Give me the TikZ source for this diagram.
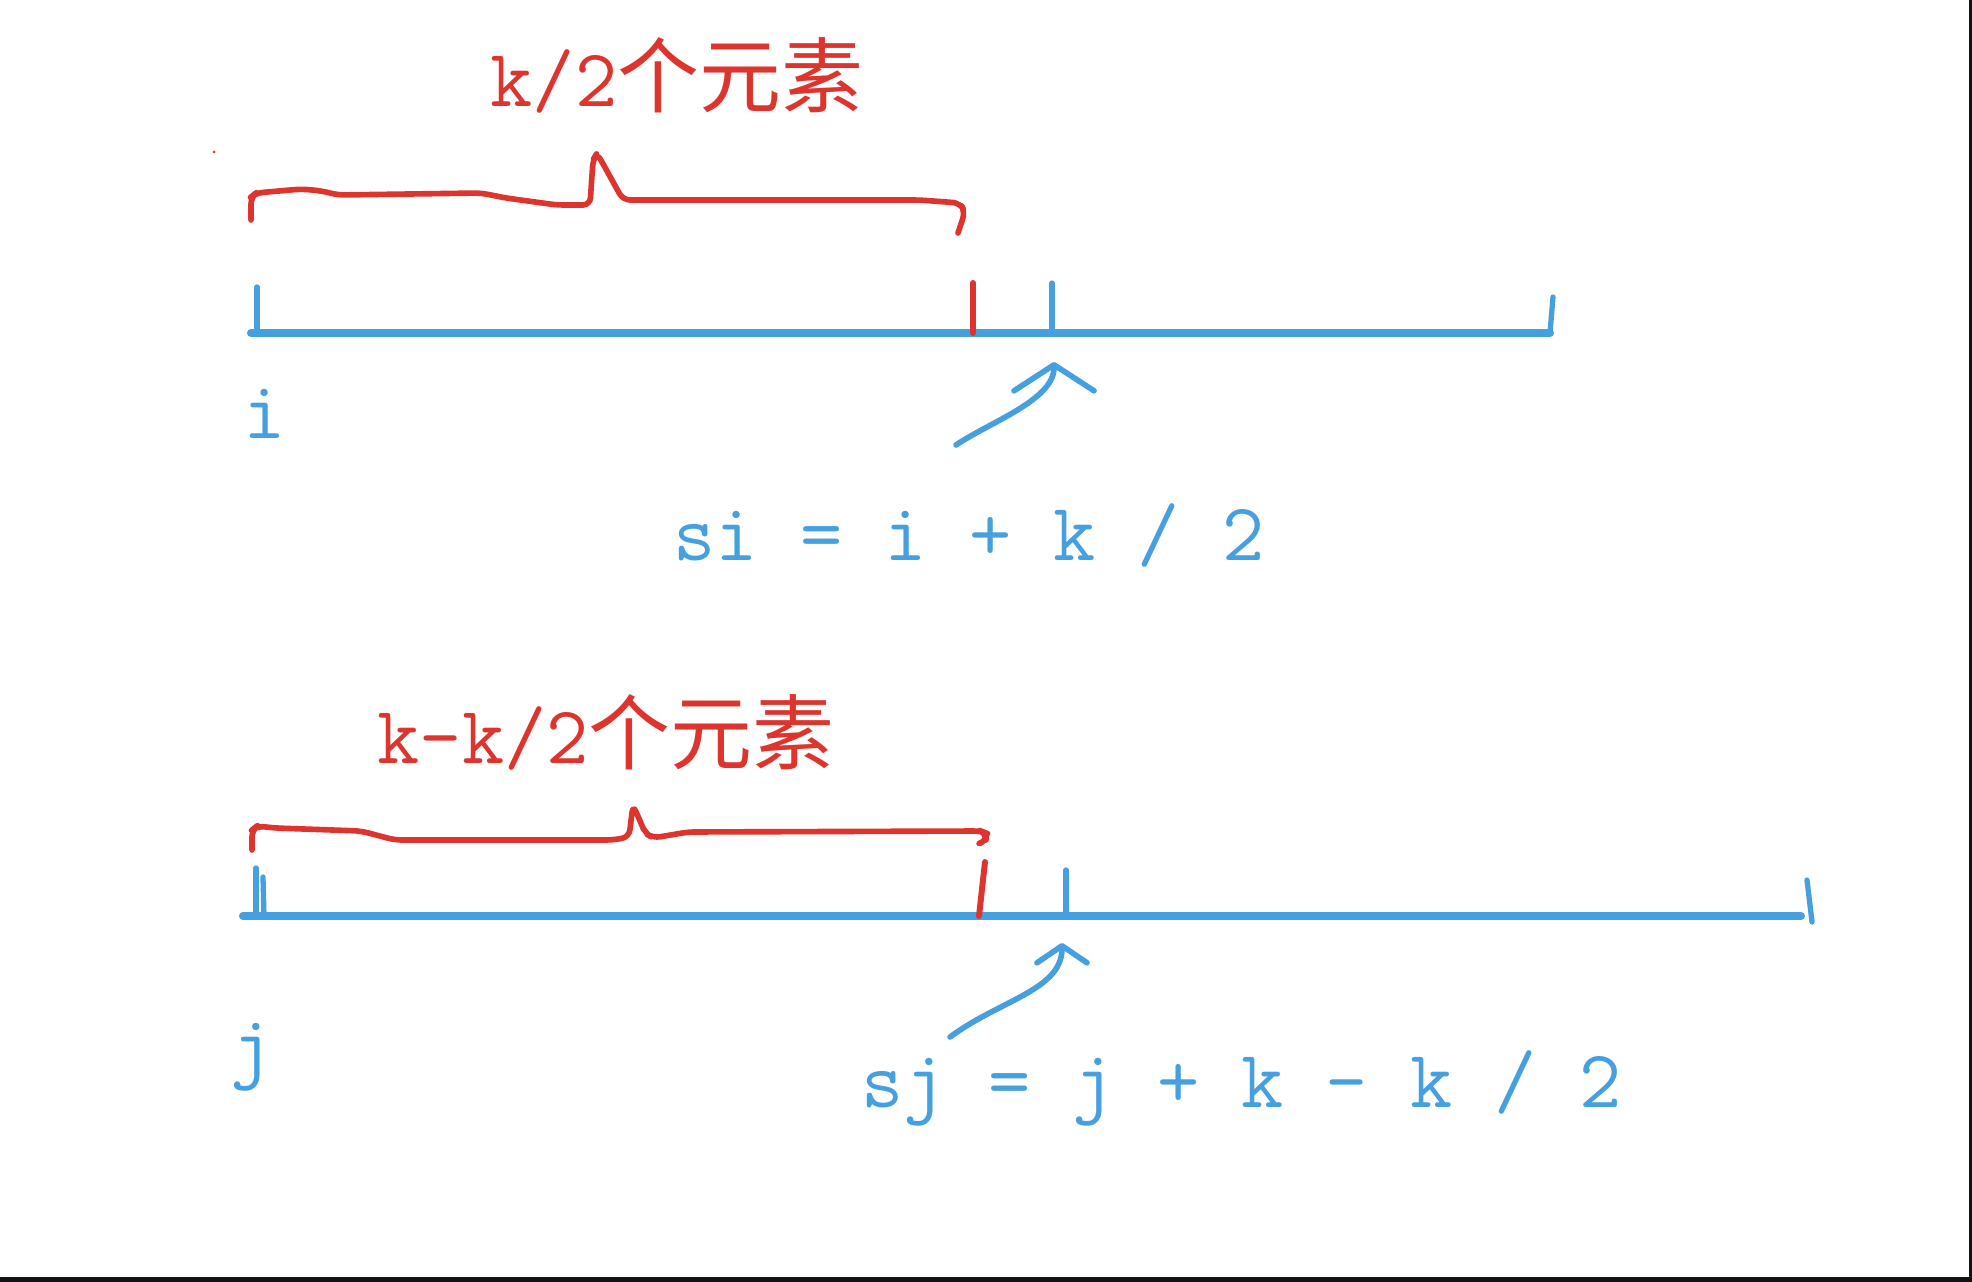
\documentclass[tikz,border=0pt]{standalone}
\usepackage{fontspec}
\newfontfamily\cjk{Noto Sans CJK SC}
\usetikzlibrary{arrows.meta}
\definecolor{penblue}{RGB}{70,160,224}
\definecolor{penred}{RGB}{221,52,45}
\begin{document}
\begin{tikzpicture}[x=0.01cm, y=-0.01cm,
    axis/.style={penblue, line width=2.3pt, line cap=round},
    tick/.style={penblue, line width=1.5pt, line cap=round},
    cut/.style={penred, line width=1.7pt, line cap=round},
    brace/.style={penred, line width=1.6pt, line cap=round, line join=round, rounded corners=2pt},
    label/.style={inner sep=0pt, anchor=base west, font=\fontsize{23.3}{28}\selectfont\ttfamily},
    pointer/.style={penblue, line width=1.6pt, line cap=round}
]
\useasboundingbox (0,0) rectangle (1972,1282);
\fill[black!93] (0,1277) rectangle (1972,1282);
\fill[black!93] (1969,0) rectangle (1972,1282);

% First array: i ... si
\coordinate (istart) at (251,333);
\coordinate (iend) at (1550,333);
\coordinate (icut) at (973,333);
\coordinate (si) at (1052,333);
\draw[axis] (istart) -- (iend);
\draw[tick] (257,333) -- (257,287);
\draw[tick] (iend) -- (1553,297);
\draw[tick] (si) -- (1052,283);
\draw[cut] (icut) -- (973,283);
\fill[penred] (214,152) circle (1.5);
\draw[brace] (251,220) -- (251,197) -- (256,193) -- (302,189) -- (322,191) -- (338,195) -- (481,193)
    -- (506,198) -- (557,205) -- (590,205) -- (593,160) -- (597,153) -- (623,200) -- (919,200)
    -- (960,203) -- (965,212) -- (958,233);
\node[label, text=penred] (cnti) at (490,107) {k/2\cjk 个元素};
\node[label, text=penblue] (labi) at (243,438) {i};
\node[label, text=penblue] (formi) at (673,560) {si = i + k / 2};
\coordinate (taili) at (956,445);
\draw[pointer, -{Straight Barb[length=2.6mm, width=8mm, round]}]
    (taili) .. controls (990,422) and (1054,400) .. (1054,362);

% Second array: j ... sj
\coordinate (jstart) at (243,916);
\coordinate (jend) at (1801,916);
\coordinate (jcut) at (979,916);
\coordinate (sj) at (1066,916);
\draw[axis] (jstart) -- (jend);
\draw[tick] (256,916) -- (256,868);
\draw[tick] (264,916) -- (263,877);
\draw[tick] (1812,922) -- (1807,880);
\draw[tick] (sj) -- (1066,870);
\draw[cut] (jcut) -- (985,862);
\draw[brace] (252,850) -- (252,830) -- (257,826) -- (275,828) -- (361,831) -- (395,840) -- (613,840)
    -- (629,837) -- (633,805) -- (641,823) -- (645,833) -- (653,838) -- (688,832) -- (981,831)
    -- (986,833) -- (986,842) -- (981,843);
\node[label, text=penred] (cntj) at (377,763) {k-k/2\cjk 个元素};
\node[label, text=penblue] (labj) at (230,1072) {j};
\node[label, text=penblue] (formj) at (861,1107) {sj = j + k - k / 2};
\coordinate (tailj) at (950,1037);
\draw[pointer, -{Straight Barb[length=1.7mm, width=5mm, round]}]
    (tailj) .. controls (1000,1000) and (1062,990) .. (1062,943);
\end{tikzpicture}
\end{document}
